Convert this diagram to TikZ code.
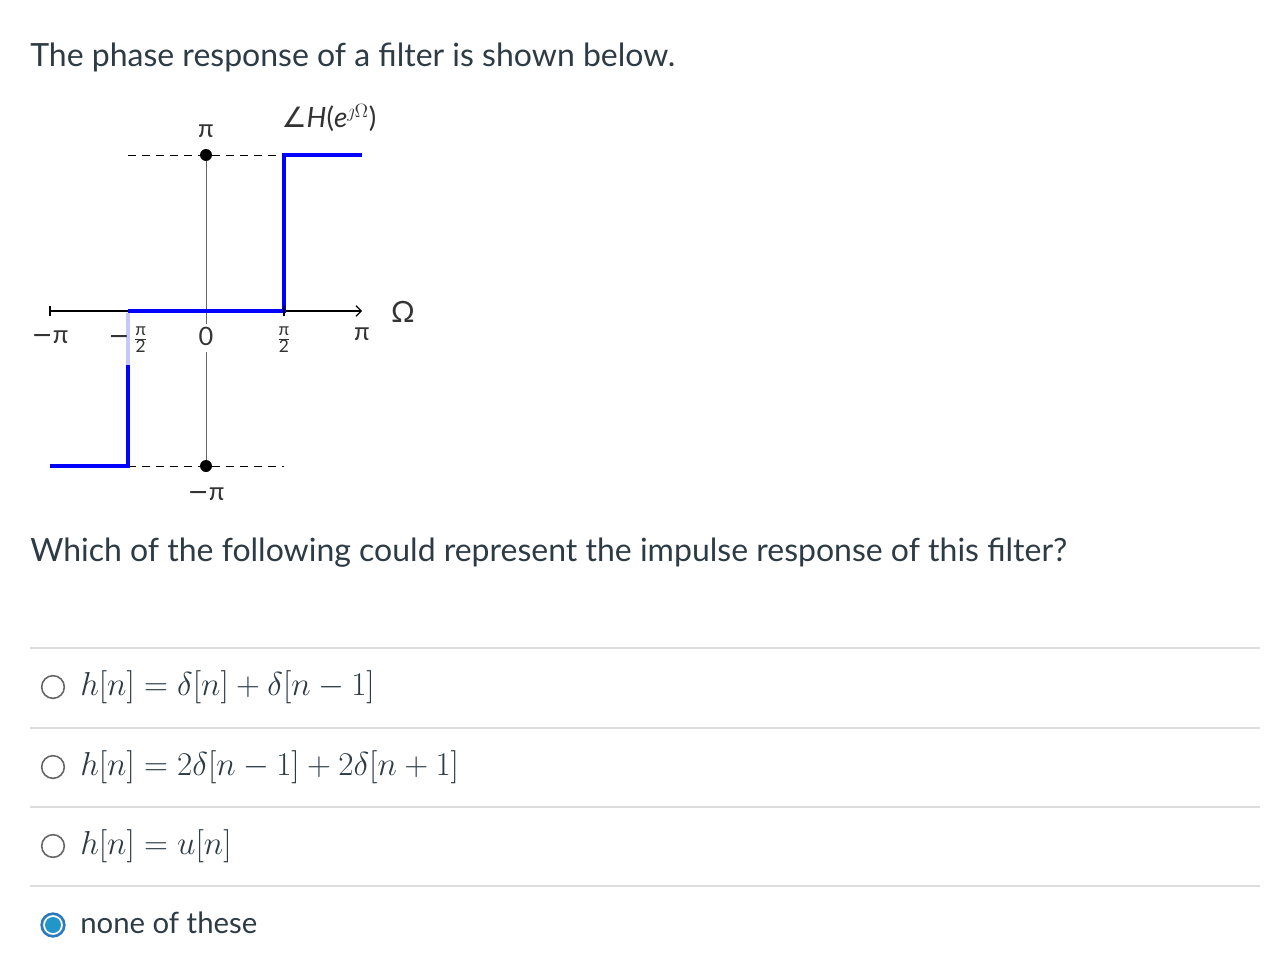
\documentclass[tikz,border=0pt]{standalone}
\usepackage{amsmath}
\usepackage{fontspec}
\setmainfont{Lato}
\newfontfamily\djv{DejaVu Sans}
\usetikzlibrary{arrows.meta}
\definecolor{txt}{HTML}{2D3B45}
\definecolor{sep}{HTML}{DDDDDD}
\definecolor{pblue}{HTML}{0000FF}
\definecolor{lblue}{HTML}{C8C8F8}
\definecolor{rad}{HTML}{2B7ABC}
\begin{document}
\begin{tikzpicture}[x=0.75pt,y=-0.75pt,
  lab/.style={font=\fontsize{19}{22}\selectfont, text=black!80, inner sep=0pt},
  big/.style={font=\fontsize{24}{28}\selectfont, text=txt, inner sep=0pt, anchor=west},
  opt/.style={font=\fontsize{28}{32}\selectfont, text=txt, inner sep=0pt, anchor=west},
  radio/.style={circle, draw=black!60, line width=1.2pt, minimum size=17pt, inner sep=0pt},
  sepline/.style={draw=sep, line width=1.2pt},
  phase/.style={draw=pblue, line width=2.5pt},
  dsh/.style={black, line width=0.6pt, dash pattern=on 6pt off 4.5pt}]
\useasboundingbox (0,0) rectangle (1286,974);
\node[big] (title) at (30,57) {The phase response of a filter is shown below.};
% axes
\coordinate (xl) at (50,311); \coordinate (xr) at (362,311);
\draw[black, line width=0.8pt, -{Straight Barb[length=4pt]}] (xl) -- (xr);
\draw[black, line width=0.8pt] (50,306) -- (50,316);
\coordinate (vt) at (206,155); \coordinate (vb) at (206,466);
\draw[black!60, line width=0.6pt] (vt) -- (206,324);
\draw[black!60, line width=0.6pt] (206,352) -- (vb);
\draw[dsh] (128,155) -- (284,155);
\draw[dsh] (128,466) -- (284,466);
\draw[phase] (50,466) -- (128,466) -- (128,365);
\draw[lblue, line width=2.5pt] (128,365) -- (128,313);
\draw[phase] (128,311) -- (284,311) -- (284,155) -- (362,155);
\draw[black, line width=0.8pt] (284,306) -- (284,316);
\fill (vt) circle (6);
\fill (vb) circle (6);
\node[lab] (lpi) at (206,131) {π};
\node[lab, font=\fontsize{21}{24}\selectfont] (lH) at (329,118) {{\djv ∠}\textit{H}(\textit{e}$^{\jmath\Omega}$)};
\node[lab, font=\fontsize{22}{26}\selectfont] (lOm) at (403,312) {Ω};
\node[lab] (lmpi) at (50,337) {{\djv −}π};
\node[lab] (lmh) at (128,340) {{\djv −}\,$\frac{\text{\fontsize{13}{14}\selectfont π}}{\text{\fontsize{13}{14}\selectfont 2}}$};
\node[lab] (l0) at (206,336) {0};
\node[lab] (lh) at (284,340) {$\frac{\text{\fontsize{13}{14}\selectfont π}}{\text{\fontsize{13}{14}\selectfont 2}}$};
\node[lab] (lp) at (362,334) {π};
\node[lab] (lbm) at (206,494) {{\djv −}π};
\node[big] (q) at (30,553) {Which of the following could represent the impulse response of this filter?};
\foreach \y in {648,728,807,886} \draw[sepline] (30,\y) -- (1260,\y);
\node[radio] (r1) at (53,687) {};
\node[radio] (r2) at (53,767) {};
\node[radio] (r3) at (53,846) {};
\node[radio, draw=rad, line width=2pt] (r4) at (53,925) {};
\fill[rad!80!cyan] (r4) circle (8);
\node[opt] (o1) at (80,687) {$h[n]=\delta[n]+\delta[n-1]$};
\node[opt] (o2) at (80,767) {$h[n]=2\delta[n-1]+2\delta[n+1]$};
\node[opt] (o3) at (80,846) {$h[n]=u[n]$};
\node[big, font=\fontsize{22}{26}\selectfont] (o4) at (80,923) {none of these};
\end{tikzpicture}
\end{document}
